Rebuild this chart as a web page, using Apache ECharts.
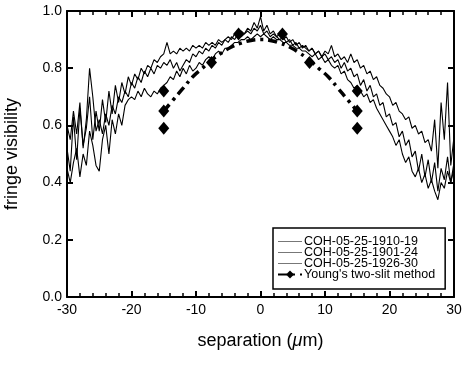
<!DOCTYPE html>
<html><head><meta charset="utf-8">
<script src="https://cdn.jsdelivr.net/npm/echarts@6/dist/echarts.min.js"></script>
<style>html,body{margin:0;padding:0;background:#fff}#c{width:474px;height:372px}</style>
</head><body><div id="c"></div>
<script>
const separation = [-30,-29.5,-29,-28.5,-28,-27.5,-27,-26.5,-26,-25.5,-25,-24.5,-24,-23.5,-23,-22.5,-22,-21.5,-21,-20.5,
-20,-19.5,-19,-18.5,-18,-17.5,-17,-16.5,-16,-15.5,-15,-14.5,-14,-13.5,-13,-12.5,-12,-11.5,-11,-10.5,
-10,-9.5,-9,-8.5,-8,-7.5,-7,-6.5,-6,-5.5,-5,-4.5,-4,-3.5,-3,-2.5,-2,-1.5,-1,-0.5,
0,0.5,1,1.5,2,2.5,3,3.5,4,4.5,5,5.5,6,6.5,7,7.5,8,8.5,9,9.5,
10,10.5,11,11.5,12,12.5,13,13.5,14,14.5,15,15.5,16,16.5,17,17.5,18,18.5,19,19.5,
20,20.5,21,21.5,22,22.5,23,23.5,24,24.5,25,25.5,26,26.5,27,27.5,28,28.5,29,29.5,30];

const coh1910_19 = [0.52,0.44,0.63,0.48,0.66,0.53,0.59,0.70,0.55,0.65,0.58,0.69,0.61,0.72,0.64,0.74,0.68,0.75,0.71,0.77,
0.74,0.78,0.76,0.80,0.78,0.81,0.80,0.83,0.82,0.84,0.85,0.89,0.85,0.86,0.85,0.87,0.86,0.87,0.86,0.88,
0.87,0.88,0.87,0.89,0.88,0.89,0.88,0.90,0.89,0.90,0.91,0.90,0.92,0.91,0.93,0.92,0.94,0.93,0.96,0.94,
0.98,0.93,0.95,0.92,0.93,0.91,0.92,0.90,0.91,0.89,0.90,0.88,0.89,0.87,0.88,0.86,0.87,0.85,0.86,0.84,
0.85,0.83,0.84,0.82,0.83,0.80,0.82,0.79,0.80,0.77,0.78,0.74,0.76,0.72,0.74,0.70,0.71,0.67,0.68,0.63,
0.64,0.60,0.61,0.56,0.58,0.53,0.55,0.49,0.51,0.44,0.50,0.42,0.48,0.40,0.47,0.37,0.45,0.41,0.49,0.40,0.47];

const coh1901_24 = [0.45,0.40,0.47,0.52,0.42,0.50,0.46,0.58,0.53,0.46,0.44,0.55,0.60,0.50,0.62,0.57,0.64,0.60,0.67,0.69,
0.70,0.69,0.72,0.70,0.73,0.71,0.70,0.72,0.71,0.73,0.74,0.75,0.77,0.76,0.79,0.77,0.80,0.78,0.81,0.79,
0.80,0.82,0.81,0.83,0.84,0.83,0.85,0.86,0.85,0.87,0.87,0.88,0.89,0.89,0.90,0.90,0.91,0.90,0.91,0.92,
0.91,0.92,0.91,0.90,0.91,0.90,0.90,0.89,0.89,0.88,0.88,0.87,0.87,0.86,0.86,0.85,0.84,0.85,0.83,0.84,
0.82,0.83,0.81,0.80,0.81,0.78,0.79,0.76,0.75,0.73,0.74,0.72,0.70,0.71,0.68,0.69,0.66,0.64,0.62,0.60,
0.58,0.56,0.53,0.55,0.50,0.47,0.49,0.44,0.42,0.45,0.40,0.43,0.38,0.41,0.37,0.34,0.40,0.38,0.44,0.40,0.45];

const coh1926_30 = [0.60,0.55,0.65,0.57,0.68,0.52,0.62,0.80,0.70,0.58,0.62,0.57,0.64,0.60,0.67,0.64,0.70,0.68,0.72,0.70,
0.75,0.73,0.77,0.75,0.79,0.77,0.80,0.78,0.81,0.80,0.82,0.81,0.83,0.80,0.82,0.79,0.81,0.83,0.82,0.85,
0.84,0.86,0.85,0.87,0.86,0.88,0.87,0.89,0.88,0.90,0.89,0.91,0.90,0.92,0.91,0.92,0.93,0.92,0.94,0.93,
0.95,0.92,0.93,0.91,0.92,0.91,0.90,0.91,0.89,0.90,0.88,0.89,0.87,0.88,0.87,0.86,0.87,0.85,0.86,0.84,
0.86,0.85,0.88,0.84,0.85,0.83,0.84,0.82,0.85,0.82,0.83,0.80,0.81,0.78,0.79,0.76,0.77,0.74,0.73,0.71,
0.70,0.67,0.68,0.65,0.64,0.62,0.63,0.59,0.60,0.57,0.58,0.54,0.55,0.51,0.62,0.45,0.68,0.55,0.75,0.46,0.56];

const youngFitX = [-15,-13.5,-12,-10.5,-9,-7.5,-6,-4.5,-3,-1.5,0,1.5,3,4.5,6,7.5,9,10.5,12,13.5,15];
const youngFitY = [0.65,0.69,0.73,0.77,0.80,0.83,0.854,0.874,0.888,0.897,0.90,0.897,0.888,0.874,0.854,0.83,0.80,0.77,0.73,0.69,0.65];

const youngPtsX = [-15,-15,-15,-7.6,-3.4,3.4,7.6,15,15,15];
const youngPtsY = [0.72,0.65,0.59,0.82,0.92,0.92,0.82,0.72,0.65,0.59];

const seriesNames = ['COH-05-25-1910-19','COH-05-25-1901-24','COH-05-25-1926-30',"Young's two-slit method"];
const yTicks = [0,0.2,0.4,0.6,0.8,1.0];

const FONT = 'Liberation Sans, Arial, Helvetica, sans-serif';
const chart = echarts.init(document.getElementById('c'));
const pairs = (xs, ys) => xs.map((x, i) => [x, ys[i]]);
const noisy = (name, ys) => ({
  name, type: 'line', data: pairs(separation, ys), symbol: 'none',
  lineStyle: { color: '#000', width: 1.1 }, itemStyle: { color: '#000' },
  animation: false, z: 2
});
const axCommon = {
  axisLine: { show: true, onZero: false, lineStyle: { color: '#000', width: 2 } },
  axisTick: { show: true, inside: true, length: 6, lineStyle: { color: '#000', width: 2 } },
  splitLine: { show: false }
};
chart.setOption({
  animation: false,
  backgroundColor: '#fff',
  grid: { left: 67, right: 20, top: 11, bottom: 75, containLabel: false, outerBoundsMode: 'none' },
  textStyle: { fontFamily: FONT },
  xAxis: [
    Object.assign({ type: 'value', min: -30, max: 30, interval: 10, position: 'bottom',
      minorTick: { show: true, splitNumber: 5, length: 4, lineStyle: { color: '#000', width: 1.5 } },
      axisLabel: { color: '#000', fontSize: 14, margin: 6, fontFamily: FONT },
      name: 'separation ({i|μ}m)', nameLocation: 'middle', nameGap: 35,
      nameTextStyle: { color: '#000', fontSize: 18, fontFamily: FONT,
        rich: { i: { fontStyle: 'italic', fontSize: 18, fontFamily: FONT, color: '#000' } } }
    }, axCommon),
    Object.assign({ type: 'value', min: -30, max: 30, interval: 10, position: 'top',
      minorTick: { show: true, splitNumber: 5, length: 4, lineStyle: { color: '#000', width: 1.5 } },
      axisLabel: { show: false } }, axCommon)
  ],
  yAxis: [
    Object.assign({ type: 'value', min: 0, max: 1, interval: 0.2, position: 'left',
      axisLabel: { color: '#000', fontSize: 14, margin: 5, fontFamily: FONT,
        formatter: v => yTicks.includes(+v.toFixed(1)) ? v.toFixed(1) : '' },
      name: 'fringe visibility', nameLocation: 'middle', nameGap: 46,
      nameTextStyle: { color: '#000', fontSize: 18, fontFamily: FONT }
    }, axCommon),
    Object.assign({ type: 'value', min: 0, max: 1, interval: 0.2, position: 'right',
      axisLabel: { show: false } }, axCommon)
  ],
  legend: {
    data: [
      { name: seriesNames[0], itemStyle: { opacity: 0 }, lineStyle: { color: '#777', width: 1 } },
      { name: seriesNames[1], itemStyle: { opacity: 0 }, lineStyle: { color: '#777', width: 1 } },
      { name: seriesNames[2], itemStyle: { opacity: 0 }, lineStyle: { color: '#777', width: 1 } },
      { name: seriesNames[3] }
    ],
    orient: 'vertical', left: 273, top: 228,
    itemWidth: 24, itemHeight: 10, itemGap: -2,
    padding: [7, 10, 8, 4],
    borderColor: '#000', borderWidth: 1.5, backgroundColor: '#fff',
    textStyle: { color: '#000', fontSize: 12.5, fontFamily: FONT, padding: [0, 0, 0, -3] },
    z: 10
  },
  series: [
    noisy(seriesNames[0], coh1910_19),
    noisy(seriesNames[1], coh1901_24),
    noisy(seriesNames[2], coh1926_30),
    { name: seriesNames[3], type: 'line', data: pairs(youngFitX, youngFitY),
      symbol: 'diamond', symbolSize: 10, showSymbol: false, smooth: true,
      lineStyle: { color: '#000', width: 3.5, type: [9, 5, 3, 5] },
      itemStyle: { color: '#000' }, z: 3 },
    { name: 'Young points', type: 'scatter', data: pairs(youngPtsX, youngPtsY),
      symbol: 'diamond', symbolSize: [11, 13], itemStyle: { color: '#000', opacity: 1 }, z: 4 }
  ]
});
</script></body></html>
